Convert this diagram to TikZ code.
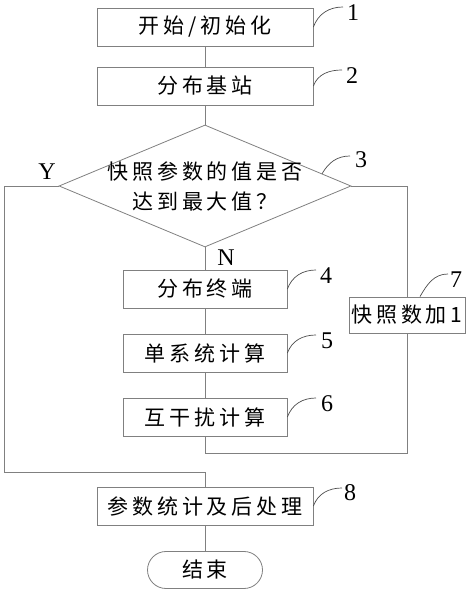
\documentclass[tikz,border=0pt]{standalone}
\usepackage{fontspec}
\setmainfont{Liberation Serif}
\newfontfamily\cjk[LetterSpace=18]{Noto Sans CJK SC}
\usepackage{tikz}
\usetikzlibrary{shapes,positioning}
\tikzstyle{block} = [rectangle, draw=black!50, line width=0.8pt, fill=white, minimum width=216pt,
minimum height=38pt, inner sep=0pt, font=\cjk\fontsize{21}{30}\selectfont]
\tikzstyle{small} = [minimum width=164pt]
\tikzstyle{decision} = [diamond, draw=black!50, line width=0.8pt, minimum width=292pt,
minimum height=122pt, inner sep=0pt]
\tikzstyle{question} = [align=center, inner sep=0pt, font=\cjk\fontsize{21}{30}\selectfont]
\tikzstyle{terminal} = [rounded rectangle, draw=black!50, line width=0.8pt, minimum width=115pt,
minimum height=37pt, inner sep=0pt, font=\cjk\fontsize{21}{30}\selectfont]
\tikzstyle{line} = [draw, black!50, line width=0.8pt]
\tikzstyle{leader} = [draw, black!70, line width=0.7pt]
\tikzstyle{tag} = [inner sep=0pt, font=\fontsize{24}{26}\selectfont]

\begin{document}
\begin{tikzpicture}[x=1pt, y=1pt, node distance=64pt]
			\useasboundingbox (0,0) rectangle (474,591);
			\node [block] (init) at (205,564) {开始/初始化};
			\node [block, below of=init, node distance=59pt] (bs) {分布基站};
			\node [decision, below of=bs, node distance=100pt,
			label={[question]center:快照参数的值是否\\达到最大值？}] (full) {};
			\node [block, small, below of=full, node distance=103pt] (ue) {分布终端};
			\node [block, small, below of=ue] (single) {单系统计算};
			\node [block, small, below of=single] (inter) {互干扰计算};
			\node [block, right of=ue, node distance=202pt, yshift=-26pt, minimum width=116pt,
			minimum height=36pt] (snap) {快照数加1};
			\node [block, below of=inter, node distance=89pt] (post) {参数统计及后处理};
			\node [terminal, below of=post] (end) {结束};
			% Y / N branches
			\node [tag] (yes) at (47,419) {Y};
			\node [tag] (no) at (226,333) {N};
			\coordinate (yloop) at (4,119);
			\path [line] (init) -- (bs);
			\path [line] (bs) -- (full);
			\path [line] (full) -- (ue);
			\path [line] (ue) -- (single);
			\path [line] (single) -- (inter);
			\path [line] (inter.south) -- ++(0,-17) -| (snap.south);
			\path [line] (full.east) -| (snap.north);
			\path [line] (full.west) -| (yloop) -| (post.north);
			\path [line] (post) -- (end);
			% step numbers
			\node [tag] (t1) at (353,578) {1};
			\node [tag] (t2) at (352,515) {2};
			\node [tag] (t3) at (361,431) {3};
			\node [tag] (t4) at (326,315) {4};
			\node [tag] (t5) at (327,250) {5};
			\node [tag] (t6) at (327,187) {6};
			\node [tag] (t7) at (456,311) {7};
			\node [tag] (t8) at (350,98) {8};
			\path [leader] (init.east) to[out=70,in=180] ([shift={(-10pt,6pt)}]t1.center);
			\path [leader] (bs.east) to[out=70,in=180] ([shift={(-10pt,6pt)}]t2.center);
			\path [leader] (full.6) to[out=60,in=180] ([shift={(-11pt,4pt)}]t3.center);
			\path [leader] (ue.east) to[out=70,in=180] ([shift={(-10pt,6pt)}]t4.center);
			\path [leader] (single.east) to[out=70,in=180] ([shift={(-11pt,6pt)}]t5.center);
			\path [leader] (inter.east) to[out=70,in=180] ([shift={(-11pt,6pt)}]t6.center);
			\path [leader] ([xshift=13pt]snap.north) to[out=60,in=180] ([shift={(-8pt,6pt)}]t7.center);
			\path [leader] (post.east) to[out=70,in=180] ([shift={(-8pt,5pt)}]t8.center);
		\end{tikzpicture}
\end{document}
